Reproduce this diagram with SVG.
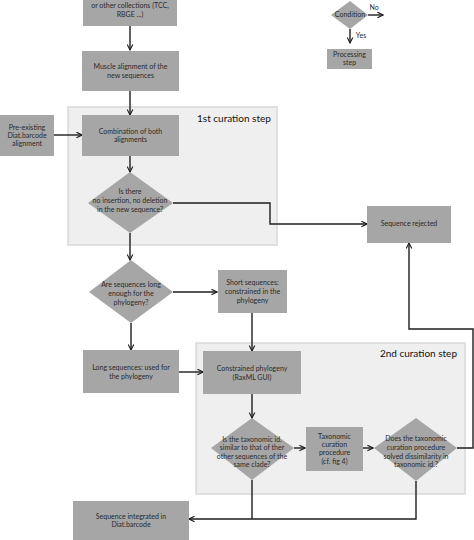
<svg xmlns="http://www.w3.org/2000/svg" width="474" height="540" viewBox="0 0 474 540">
<style>
.bg{fill:#ffffff}
.step{fill:#efefef;stroke:#d9d9d9;stroke-width:1.5}
.box{fill:#a6a6a6}
.t{font-family:Lato,"Liberation Sans",sans-serif;font-size:7px;fill:#2a2a2a;text-anchor:middle;dominant-baseline:middle}
.title{font-family:Lato,"Liberation Sans",sans-serif;font-size:10px;fill:#111;dominant-baseline:middle}
.c{fill:none;stroke:#1e1e1e;stroke-width:1.4}
</style>
<defs>
<marker id="a" viewBox="0 0 10 10" refX="9" refY="5" markerWidth="7" markerHeight="7" markerUnits="userSpaceOnUse" orient="auto">
<path d="M1,1 L9,5 L1,9" fill="none" stroke="#1e1e1e" stroke-width="1.6"/>
</marker>
</defs>
<rect class="bg" width="474" height="540"/>
<g id="step1"><rect class="step" x="68" y="107" width="209" height="138"/><text class="title" x="197" y="119">1st curation step</text></g>
<g id="step2"><rect class="step" x="196" y="343" width="269" height="151"/><text class="title" x="457" y="354" text-anchor="end">2nd curation step</text></g>
<g id="connectors">
<path class="c" d="M130,26 V50" marker-end="url(#a)"/>
<path class="c" d="M130,91 V115" marker-end="url(#a)"/>
<path class="c" d="M54,135 H82" marker-end="url(#a)"/>
<path class="c" d="M130,156 V172" marker-end="url(#a)"/>
<path class="c" d="M173,203 H270 V224 H367" marker-end="url(#a)"/>
<path class="c" d="M130,233 V260" marker-end="url(#a)"/>
<path class="c" d="M173,292 H217" marker-end="url(#a)"/>
<path class="c" d="M131,323 V350" marker-end="url(#a)"/>
<path class="c" d="M179,372 H203" marker-end="url(#a)"/>
<path class="c" d="M252,313 V351" marker-end="url(#a)"/>
<path class="c" d="M252,394 V418" marker-end="url(#a)"/>
<path class="c" d="M294,448 H305" marker-end="url(#a)"/>
<path class="c" d="M363,448 H373" marker-end="url(#a)"/>
<path class="c" d="M457,448 H473 V329 H409 V243" marker-end="url(#a)"/>
<path class="c" d="M252,480 V519"/>
<path class="c" d="M416,481 V519 H189" marker-end="url(#a)"/>
<path class="c" d="M368,15 H383" marker-end="url(#a)"/>
<path class="c" d="M350,29 V43" marker-end="url(#a)"/>
</g>
<g id="legend-condition"><polygon class="box" points="350,1 368,15 350,29 331,15"/><text class="t" x="350" y="15">Condition</text><text class="t" x="374" y="8">No</text><text class="t" x="361" y="36">Yes</text></g>
<g id="legend-step"><rect class="box" x="327" y="49" width="45" height="20"/><text class="t" x="349.5" y="55">Processing</text><text class="t" x="349.5" y="63">step</text></g>
<g id="collections"><rect class="box" x="83" y="-14" width="94" height="40"/><text class="t" x="130" y="6">or other collections (TCC,</text><text class="t" x="130" y="15">RBGE ...)</text></g>
<g id="muscle"><rect class="box" x="82" y="51" width="97" height="40"/><text class="t" x="130.5" y="67">Muscle alignment of the</text><text class="t" x="130.5" y="76">new sequences</text></g>
<g id="preexisting"><rect class="box" x="0" y="115" width="54" height="41"/><text class="t" x="27" y="128">Pre-existing</text><text class="t" x="27" y="136">Diat.barcode</text><text class="t" x="27" y="144">alignment</text></g>
<g id="combination"><rect class="box" x="82" y="115" width="97" height="41"/><text class="t" x="130.5" y="132">Combination of both</text><text class="t" x="130.5" y="140">alignments</text></g>
<g id="indel"><polygon class="box" points="130,172 173,203 130,233 88,203"/><text class="t" x="130" y="192">Is there</text><text class="t" x="130" y="201">no insertion, no deletion</text><text class="t" x="130" y="210">in the new sequence?</text></g>
<g id="rejected"><rect class="box" x="367" y="206" width="84" height="37"/><text class="t" x="409" y="224.5">Sequence rejected</text></g>
<g id="long-enough"><polygon class="box" points="131,260 173,292 131,323 89,292"/><text class="t" x="131" y="285">Are sequences long</text><text class="t" x="131" y="294">enough for the</text><text class="t" x="131" y="303">phylogeny?</text></g>
<g id="short"><rect class="box" x="218" y="270" width="69" height="43"/><text class="t" x="252.5" y="283">Short sequences:</text><text class="t" x="252.5" y="292">constrained in the</text><text class="t" x="252.5" y="301">phylogeny</text></g>
<g id="long"><rect class="box" x="83" y="350" width="96" height="43"/><text class="t" x="131" y="368">Long sequences: used for</text><text class="t" x="131" y="377">the phylogeny</text></g>
<g id="constrained"><rect class="box" x="203" y="351" width="98" height="43"/><text class="t" x="252" y="369">Constrained phylogeny</text><text class="t" x="252" y="378">(RaxML GUI)</text></g>
<g id="taxo-similar"><polygon class="box" points="252,418 294,448 252,480 211,448"/><text class="t" x="252" y="440">Is the taxonomic id.</text><text class="t" x="252" y="448.5">similar to that of ther</text><text class="t" x="252" y="457">other sequences of the</text><text class="t" x="252" y="465.5">same clade?</text></g>
<g id="taxo-curation"><rect class="box" x="306" y="427" width="57" height="44"/><text class="t" x="334.5" y="437">Taxonomic</text><text class="t" x="334.5" y="445">curation</text><text class="t" x="334.5" y="453.5">procedure</text><text class="t" x="334.5" y="462">(cf. fig 4)</text></g>
<g id="taxo-solved"><polygon class="box" points="416,418 457,448 416,481 374,448"/><text class="t" x="416" y="439">Does the taxonomic</text><text class="t" x="416" y="448">curation procedure</text><text class="t" x="416" y="457">solved dissimilarity in</text><text class="t" x="416" y="465.5">taxonomic id.?</text></g>
<g id="integrated"><rect class="box" x="73" y="501" width="116" height="39"/><text class="t" x="131" y="517">Sequence integrated in</text><text class="t" x="131" y="525.5">Diat.barcode</text></g>
</svg>
